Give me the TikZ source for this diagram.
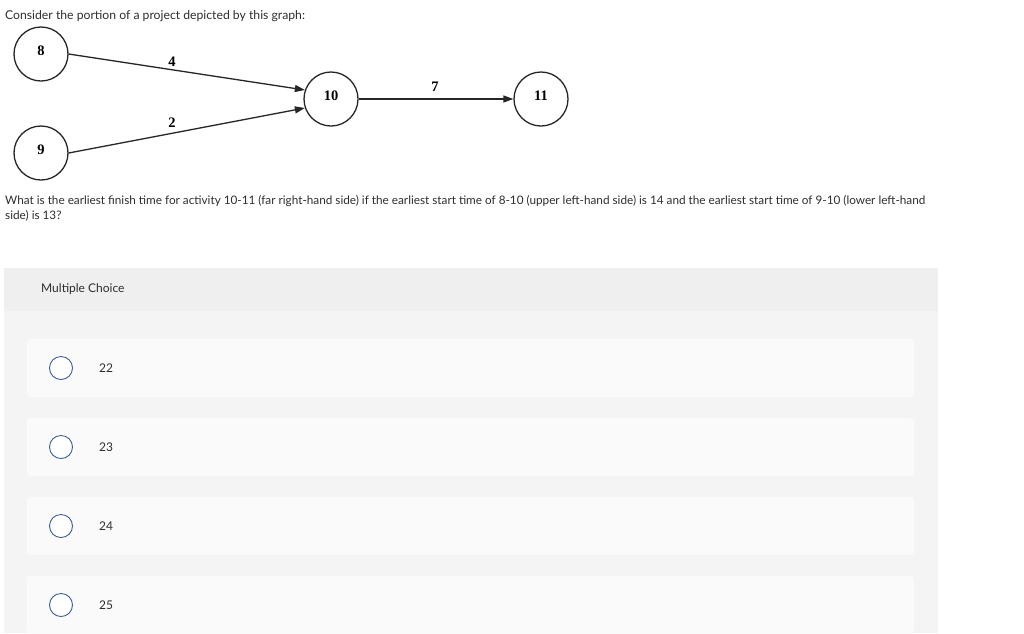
\documentclass[tikz,border=0pt]{standalone}
\usepackage{fontspec}
\setmainfont{Lato}
\newfontfamily\graphfont{Liberation Serif}
\usetikzlibrary{arrows.meta}
\definecolor{txt}{HTML}{2E2E2E}
\definecolor{hdr}{HTML}{EFEFEF}
\definecolor{body}{HTML}{F4F4F4}
\definecolor{card}{HTML}{FAFAFA}
\definecolor{radio}{HTML}{3A5F94}
\tikzset{
  evnode/.style={circle, draw=black!85, line width=1.3pt, minimum size=54pt, inner sep=0pt,
    font=\graphfont\bfseries\fontsize{14.5}{15}\selectfont, text height=10pt, text depth=8pt},
  act/.style={draw=black!85, line width=1.3pt, -{Triangle[length=10pt,width=7pt]}},
  actlbl/.style={font=\graphfont\bfseries\fontsize{14.5}{15}\selectfont, inner sep=0pt},
  qtext/.style={anchor=west, inner sep=0pt, text=txt, font=\fontsize{11.75}{14}\selectfont},
  ttext/.style={anchor=west, inner sep=0pt, text=txt, font=\fontsize{12.2}{14}\selectfont},
  cardbox/.style={fill=card, rounded corners=3pt, draw=none},
  radiobtn/.style={circle, draw=radio, fill=white, line width=0.9pt, minimum size=23pt, inner sep=0pt},
  opt/.style={anchor=west, inner sep=0pt, text=txt, font=\fontsize{12}{14}\selectfont}
}
\begin{document}
\begin{tikzpicture}[x=1pt,y=-1pt]
\useasboundingbox[fill=white] (0,0) rectangle (1024,633);
% title
\node[ttext] (title) at (5,16) {Consider the portion of a project depicted by this graph:};
% graph
\node[evnode] (n8) at (41,54) {8};
\node[evnode] (n9) at (41,153) {9};
\node[evnode] (n10) at (331,99) {10};
\node[evnode] (n11) at (541,99) {11};
\draw[act] (n8.east) -- (n10.161);
\draw[act] (n9.east) -- (n10.199);
\draw[act] (n10) -- (n11);
\node[actlbl] (l4) at (172,62) {4};
\node[actlbl] (l2) at (172,123) {2};
\node[actlbl] (l7) at (435,87) {7};
% question
\node[qtext] (q1) at (5,201) {What is the earliest finish time for activity 10-11 (far right-hand side) if the earliest start time of 8-10 (upper left-hand side) is 14 and the earliest start time of 9-10 (lower left-hand};
\node[qtext] (q2) at (5,216) {side) is 13?};
% panel
\fill[body] (4,268) rectangle (938,633);
\fill[hdr] (4,268) rectangle (938,311);
\node[opt] (mc) at (41,289.5) {Multiple Choice};
% options
\foreach \i/\v in {0/22,1/23,2/24,3/25}{
  \fill[cardbox] (27,339+79*\i) rectangle (914,397+79*\i);
  \node[radiobtn] (r\v) at (61,368+79*\i) {};
  \node[opt] (o\v) at (99,368+79*\i) {\v};
}
\end{tikzpicture}
\end{document}
